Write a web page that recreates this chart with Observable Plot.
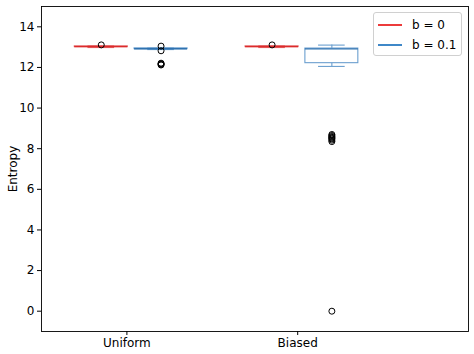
<!DOCTYPE html>
<html>
<head>
<meta charset="utf-8">
<script src="https://cdn.jsdelivr.net/npm/d3@7"></script>
<script src="https://cdn.jsdelivr.net/npm/@observablehq/plot@0.6"></script>
<style>
  html, body { margin: 0; padding: 0; background: white; }
  #wrap { position: relative; width: 474px; height: 354px; font-family: "DejaVu Sans", sans-serif; }
  #legend { position: absolute; left: 373px; top: 12px; width: 87px; height: 42px;
            border: 1px solid #d0d0d0; border-radius: 3px; background: rgba(255,255,255,0.8);
            font-size: 12px; color: #000; }
  .row { position: absolute; left: 0; height: 14px; line-height: 14px; white-space: nowrap; }
  .sw { position: absolute; left: 4px; top: 6px; width: 24px; height: 1.5px; }
  .lab { position: absolute; left: 38px; top: 0; }
</style>
</head>
<body>
<div id="wrap"></div>
<script>
// ---- data ----
const categories = ["Uniform", "Biased"];
const seriesNames = ["b = 0", "b = 0.1"];
const seriesOffset = [-0.15, 0.2];

// box statistics, order: Uniform b=0, Uniform b=0.1, Biased b=0, Biased b=0.1
const boxCategory = ["Uniform", "Uniform", "Biased", "Biased"];
const boxSeries   = ["b = 0", "b = 0.1", "b = 0", "b = 0.1"];
const whiskerLow  = [12.98, 12.88, 12.98, 12.05];
const quartile1   = [13.00, 12.90, 13.00, 12.21];
const median      = [13.02, 12.92, 13.02, 12.91];
const quartile3   = [13.04, 12.94, 13.04, 12.93];
const whiskerHigh = [13.07, 12.96, 13.07, 13.10];

// outliers
const outlierCategory = ["Uniform", "Uniform", "Uniform", "Uniform", "Uniform", "Uniform", "Uniform",
                         "Biased", "Biased", "Biased", "Biased", "Biased", "Biased", "Biased", "Biased", "Biased", "Biased"];
const outlierSeries   = ["b = 0", "b = 0.1", "b = 0.1", "b = 0.1", "b = 0.1", "b = 0.1", "b = 0.1",
                         "b = 0", "b = 0.1", "b = 0.1", "b = 0.1", "b = 0.1", "b = 0.1", "b = 0.1", "b = 0.1", "b = 0.1", "b = 0.1"];
const outlierValue    = [13.11, 13.05, 12.82, 12.12, 12.15, 12.18, 12.21,
                         13.11, 8.35, 8.42, 8.48, 8.52, 8.56, 8.60, 8.65, 8.70, 0.0];

const yTicks = [0, 2, 4, 6, 8, 10, 12, 14];

// ---- styling ----
const boxColor = {"b = 0": "#e46466", "b = 0.1": "#6b9fcf"};
const medColor = {"b = 0": "#dc2b2b", "b = 0.1": "#2f72b0"};
const legendColor = {"b = 0": "#ec3b3b", "b = 0.1": "#3f88c8"};
const halfW = 0.155, capW = 0.078;

const pos = (c, s) => categories.indexOf(c) + seriesOffset[seriesNames.indexOf(s)];

const boxes = boxCategory.map((c, i) => ({
  c, s: boxSeries[i], x: pos(c, boxSeries[i]),
  lo: whiskerLow[i], q1: quartile1[i], med: median[i], q3: quartile3[i], hi: whiskerHigh[i]
}));
const outliers = outlierCategory.map((c, i) => ({ x: pos(c, outlierSeries[i]), y: outlierValue[i] }));

const sw = 1.1;
const chart = Plot.plot({
  width: 474, height: 354,
  marginLeft: 41, marginRight: 6, marginTop: 6, marginBottom: 23,
  style: { fontFamily: "DejaVu Sans", fontSize: "12px", background: "white", color: "black" },
  x: { domain: [-0.5, 2.0] },
  y: { domain: [-1, 15] },
  marks: [
    Plot.axisY({ ticks: yTicks, tickSize: 4, tickPadding: 3, label: "Entropy", labelAnchor: "center",
                 labelArrow: "none", labelOffset: 33, fontSize: 12, stroke: "black" }),
    Plot.axisX({ ticks: [0, 1], tickFormat: i => categories[i], tickSize: 4, tickPadding: 3, label: null, fontSize: 12 }),
    // whiskers
    Plot.ruleX(boxes, { x: "x", y1: "lo", y2: "q1", stroke: d => boxColor[d.s], strokeWidth: sw }),
    Plot.ruleX(boxes, { x: "x", y1: "q3", y2: "hi", stroke: d => boxColor[d.s], strokeWidth: sw }),
    // caps
    Plot.ruleY(boxes, { y: "lo", x1: d => d.x - capW, x2: d => d.x + capW, stroke: d => boxColor[d.s], strokeWidth: sw }),
    Plot.ruleY(boxes, { y: "hi", x1: d => d.x - capW, x2: d => d.x + capW, stroke: d => boxColor[d.s], strokeWidth: sw }),
    // boxes
    Plot.rect(boxes, { x1: d => d.x - halfW, x2: d => d.x + halfW, y1: "q1", y2: "q3",
                       fill: "none", stroke: d => boxColor[d.s], strokeWidth: sw }),
    // medians
    Plot.ruleY(boxes, { y: "med", x1: d => d.x - halfW, x2: d => d.x + halfW, stroke: d => medColor[d.s], strokeWidth: 1.3 }),
    // outliers
    Plot.dot(outliers, { x: "x", y: "y", r: 3, stroke: "black", fill: "none", strokeWidth: 1 }),
    Plot.frame({ stroke: "black", strokeWidth: 0.9 })
  ]
});

const wrap = document.getElementById("wrap");
wrap.appendChild(chart);

const legend = document.createElement("div");
legend.id = "legend";
seriesNames.forEach((s, i) => {
  const row = document.createElement("div");
  row.className = "row";
  row.style.top = (5 + i * 20) + "px";
  row.style.width = "100%";
  const line = document.createElement("div");
  line.className = "sw";
  line.style.background = legendColor[s];
  const lab = document.createElement("span");
  lab.className = "lab";
  lab.textContent = s;
  row.appendChild(line);
  row.appendChild(lab);
  legend.appendChild(row);
});
wrap.appendChild(legend);
</script>
</body>
</html>
